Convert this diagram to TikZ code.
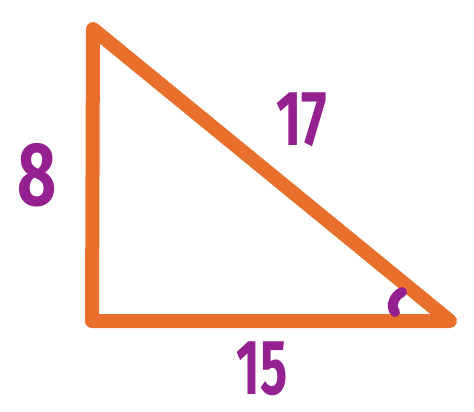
\documentclass[tikz,border=0pt]{standalone}
\usepackage{fontspec}
\setmainfont{Fira Sans}
\definecolor{triorange}{HTML}{E8702C}
\definecolor{lblpurple}{HTML}{95208F}
\begin{document}
\begin{tikzpicture}[x=1pt,y=-1pt,
  side/.style={draw=triorange,line width=14pt,line join=round,line cap=round},
  lbl/.style={text=lblpurple,inner sep=0pt,font=\fontsize{78}{78}\selectfont\bfseries},
  anglemark/.style={draw=lblpurple,line width=10pt,line cap=round}]
\useasboundingbox (0,0) rectangle (474,412);
\fill[white] (0,0) rectangle (474,412);
\coordinate (A) at (93,29);
\coordinate (B) at (92,321);
\coordinate (C) at (450,321);
\draw[side] (A) -- (B) -- (C) -- cycle;
\draw[anglemark] (402,292) .. controls (394,296) and (390,306) .. (395,312);
\node[lbl,xscale=0.75,font=\fontsize{90}{90}\selectfont\bfseries] (eight) at (37,175) {8};
\node[lbl,xscale=0.7] (seventeen) at (302,120) {17};
\node[lbl,xscale=0.65] (fifteen) at (262,369) {15};
\end{tikzpicture}
\end{document}
